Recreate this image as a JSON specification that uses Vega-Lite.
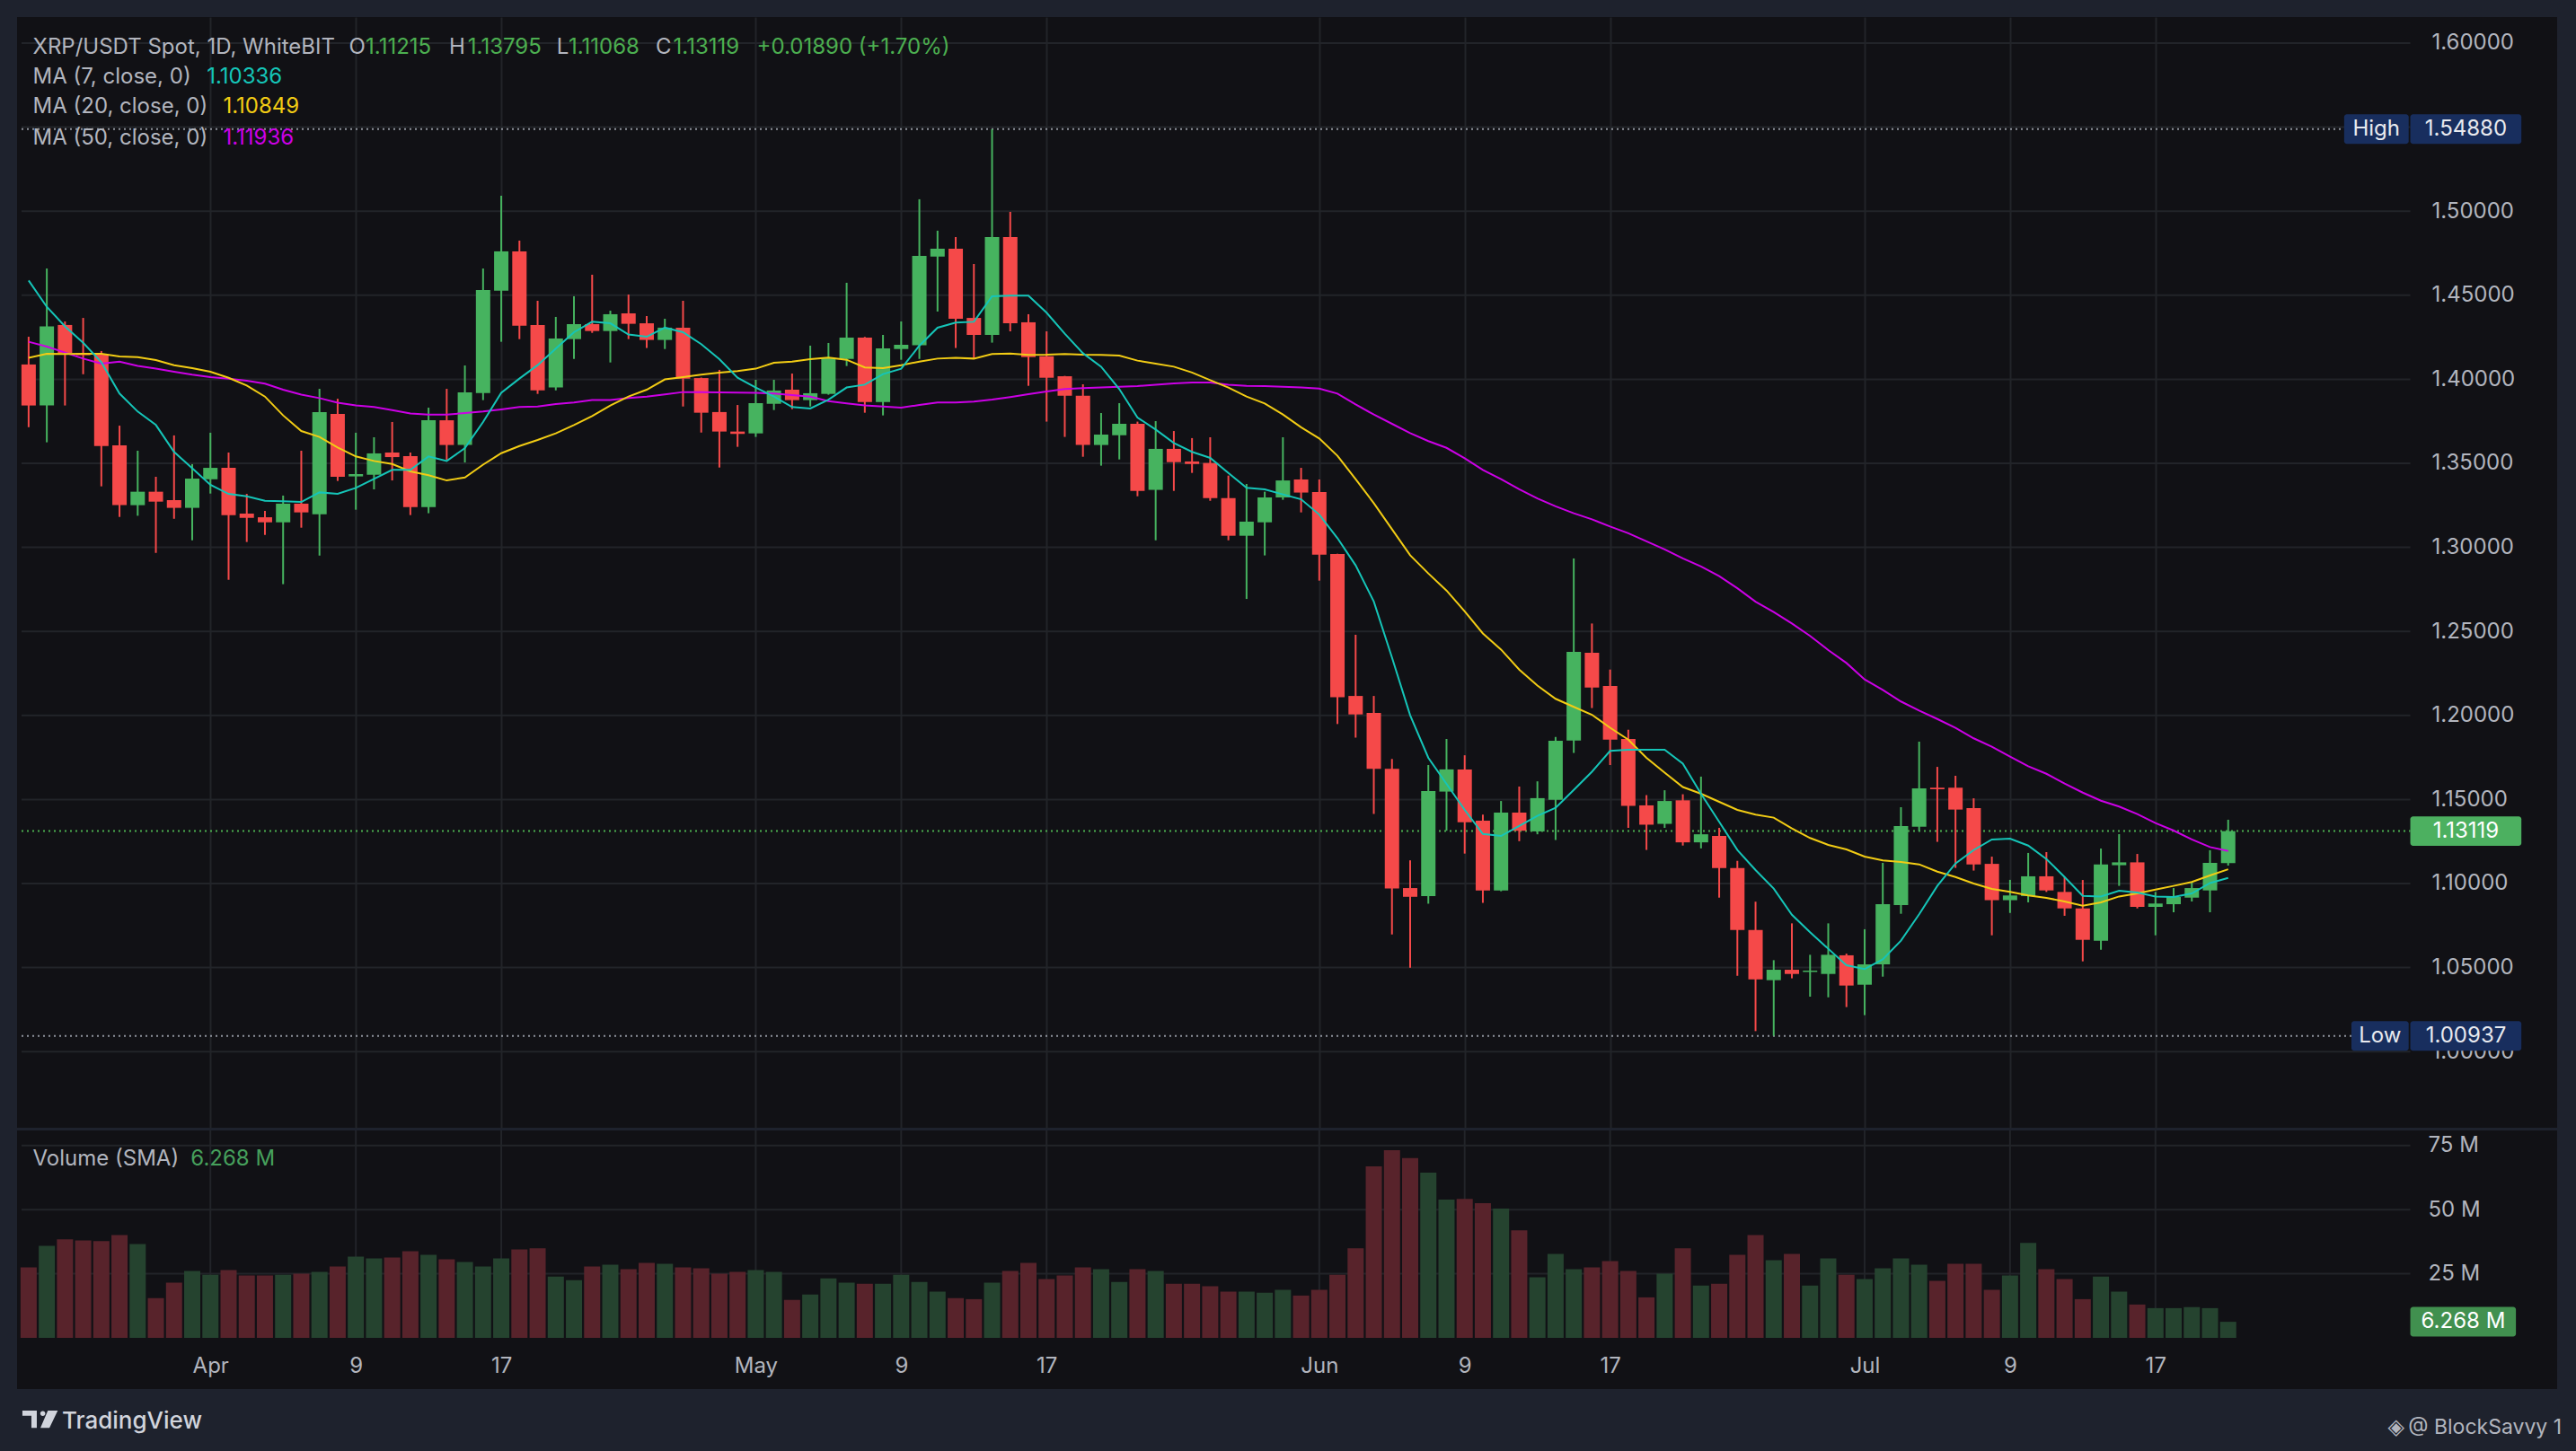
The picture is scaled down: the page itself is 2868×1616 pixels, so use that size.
{
  "$schema": "https://vega.github.io/schema/vega-lite/v6.json",
  "background": "#1e222d",
  "padding": {"left": 19, "top": 19, "right": 21, "bottom": 70},
  "spacing": 2,
  "config": {
    "view": {"stroke": null},
    "text": {"font": "Inter", "fontSize": 24},
    "axis": {"labelFont": "Inter", "labelFontSize": 24, "labelColor": "#b2b5be", "domain": false, "ticks": false, "tickSize": 0}
  },
  "datasets": {
    "one": [{}],
    "ohlc": [
      {"date": "2025-03-22", "o": 1.4088, "h": 1.4253, "l": 1.3715, "c": 1.3844, "v": 27.5, "ma7": 1.4588, "ma20": 1.4128, "ma50": 1.4223},
      {"date": "2025-03-23", "o": 1.3844, "h": 1.4659, "l": 1.3625, "c": 1.4315, "v": 35.9, "ma7": 1.4431, "ma20": 1.4152, "ma50": 1.4194},
      {"date": "2025-03-24", "o": 1.4323, "h": 1.4344, "l": 1.3844, "c": 1.4155, "v": 38.4, "ma7": 1.4315, "ma20": 1.4150, "ma50": 1.4159},
      {"date": "2025-03-25", "o": 1.4155, "h": 1.4365, "l": 1.4030, "c": 1.4143, "v": 38.0, "ma7": 1.4217, "ma20": 1.4152, "ma50": 1.4123},
      {"date": "2025-03-26", "o": 1.4146, "h": 1.4168, "l": 1.3363, "c": 1.3603, "v": 37.7, "ma7": 1.4102, "ma20": 1.4152, "ma50": 1.4093},
      {"date": "2025-03-27", "o": 1.3607, "h": 1.3724, "l": 1.3181, "c": 1.3251, "v": 40.1, "ma7": 1.3915, "ma20": 1.4136, "ma50": 1.4105},
      {"date": "2025-03-28", "o": 1.3251, "h": 1.3575, "l": 1.3188, "c": 1.3331, "v": 36.6, "ma7": 1.3808, "ma20": 1.4132, "ma50": 1.4080},
      {"date": "2025-03-29", "o": 1.3331, "h": 1.3420, "l": 1.2967, "c": 1.3272, "v": 15.5, "ma7": 1.3728, "ma20": 1.4114, "ma50": 1.4063},
      {"date": "2025-03-30", "o": 1.3281, "h": 1.3666, "l": 1.3170, "c": 1.3235, "v": 21.5, "ma7": 1.3568, "ma20": 1.4084, "ma50": 1.4045},
      {"date": "2025-03-31", "o": 1.3235, "h": 1.3495, "l": 1.3042, "c": 1.3409, "v": 26.1, "ma7": 1.3470, "ma20": 1.4066, "ma50": 1.4027},
      {"date": "2025-04-01", "o": 1.3405, "h": 1.3682, "l": 1.3320, "c": 1.3473, "v": 24.6, "ma7": 1.3372, "ma20": 1.4045, "ma50": 1.4013},
      {"date": "2025-04-02", "o": 1.3473, "h": 1.3564, "l": 1.2807, "c": 1.3192, "v": 26.4, "ma7": 1.3318, "ma20": 1.4009, "ma50": 1.4004},
      {"date": "2025-04-03", "o": 1.3201, "h": 1.3318, "l": 1.3032, "c": 1.3176, "v": 24.3, "ma7": 1.3304, "ma20": 1.3963, "ma50": 1.3991},
      {"date": "2025-04-04", "o": 1.3179, "h": 1.3217, "l": 1.3074, "c": 1.3149, "v": 24.3, "ma7": 1.3277, "ma20": 1.3897, "ma50": 1.3974},
      {"date": "2025-04-05", "o": 1.3149, "h": 1.3308, "l": 1.2781, "c": 1.3260, "v": 24.6, "ma7": 1.3274, "ma20": 1.3785, "ma50": 1.3938},
      {"date": "2025-04-06", "o": 1.3260, "h": 1.3575, "l": 1.3117, "c": 1.3208, "v": 25.0, "ma7": 1.3270, "ma20": 1.3692, "ma50": 1.3909},
      {"date": "2025-04-07", "o": 1.3197, "h": 1.3943, "l": 1.2951, "c": 1.3804, "v": 25.7, "ma7": 1.3327, "ma20": 1.3657, "ma50": 1.3888},
      {"date": "2025-04-08", "o": 1.3794, "h": 1.3884, "l": 1.3395, "c": 1.3420, "v": 27.8, "ma7": 1.3318, "ma20": 1.3594, "ma50": 1.3861},
      {"date": "2025-04-09", "o": 1.3422, "h": 1.3682, "l": 1.3224, "c": 1.3436, "v": 31.7, "ma7": 1.3354, "ma20": 1.3541, "ma50": 1.3844},
      {"date": "2025-04-10", "o": 1.3432, "h": 1.3655, "l": 1.3345, "c": 1.3559, "v": 31.0, "ma7": 1.3407, "ma20": 1.3514, "ma50": 1.3835},
      {"date": "2025-04-11", "o": 1.3564, "h": 1.3746, "l": 1.3398, "c": 1.3537, "v": 31.3, "ma7": 1.3461, "ma20": 1.3496, "ma50": 1.3817},
      {"date": "2025-04-12", "o": 1.3543, "h": 1.3564, "l": 1.3192, "c": 1.3240, "v": 33.8, "ma7": 1.3461, "ma20": 1.3452, "ma50": 1.3796},
      {"date": "2025-04-13", "o": 1.3240, "h": 1.3831, "l": 1.3203, "c": 1.3756, "v": 32.4, "ma7": 1.3541, "ma20": 1.3429, "ma50": 1.3790},
      {"date": "2025-04-14", "o": 1.3756, "h": 1.3943, "l": 1.3521, "c": 1.3609, "v": 30.6, "ma7": 1.3514, "ma20": 1.3398, "ma50": 1.3790},
      {"date": "2025-04-15", "o": 1.3609, "h": 1.4082, "l": 1.3505, "c": 1.3922, "v": 29.6, "ma7": 1.3590, "ma20": 1.3416, "ma50": 1.3799},
      {"date": "2025-04-16", "o": 1.3918, "h": 1.4659, "l": 1.3876, "c": 1.4531, "v": 27.8, "ma7": 1.3746, "ma20": 1.3492, "ma50": 1.3808},
      {"date": "2025-04-17", "o": 1.4527, "h": 1.5092, "l": 1.4223, "c": 1.4761, "v": 31.0, "ma7": 1.3920, "ma20": 1.3560, "ma50": 1.3821},
      {"date": "2025-04-18", "o": 1.4761, "h": 1.4825, "l": 1.4239, "c": 1.4319, "v": 34.5, "ma7": 1.4004, "ma20": 1.3603, "ma50": 1.3835},
      {"date": "2025-04-19", "o": 1.4323, "h": 1.4467, "l": 1.3913, "c": 1.3934, "v": 34.9, "ma7": 1.4084, "ma20": 1.3639, "ma50": 1.3838},
      {"date": "2025-04-20", "o": 1.3951, "h": 1.4371, "l": 1.3934, "c": 1.4243, "v": 23.9, "ma7": 1.4182, "ma20": 1.3678, "ma50": 1.3853},
      {"date": "2025-04-21", "o": 1.4239, "h": 1.4494, "l": 1.4121, "c": 1.4328, "v": 22.5, "ma7": 1.4280, "ma20": 1.3728, "ma50": 1.3862},
      {"date": "2025-04-22", "o": 1.4328, "h": 1.4622, "l": 1.4276, "c": 1.4287, "v": 27.8, "ma7": 1.4342, "ma20": 1.3781, "ma50": 1.3876},
      {"date": "2025-04-23", "o": 1.4287, "h": 1.4408, "l": 1.4100, "c": 1.4387, "v": 28.5, "ma7": 1.4333, "ma20": 1.3844, "ma50": 1.3877},
      {"date": "2025-04-24", "o": 1.4392, "h": 1.4504, "l": 1.4239, "c": 1.4330, "v": 26.8, "ma7": 1.4266, "ma20": 1.3897, "ma50": 1.3888},
      {"date": "2025-04-25", "o": 1.4333, "h": 1.4376, "l": 1.4186, "c": 1.4234, "v": 29.2, "ma7": 1.4253, "ma20": 1.3938, "ma50": 1.3897},
      {"date": "2025-04-26", "o": 1.4234, "h": 1.4360, "l": 1.4180, "c": 1.4307, "v": 28.9, "ma7": 1.4307, "ma20": 1.3999, "ma50": 1.3910},
      {"date": "2025-04-27", "o": 1.4307, "h": 1.4467, "l": 1.3838, "c": 1.4004, "v": 27.5, "ma7": 1.4280, "ma20": 1.4013, "ma50": 1.3924},
      {"date": "2025-04-28", "o": 1.4007, "h": 1.4010, "l": 1.3683, "c": 1.3801, "v": 27.1, "ma7": 1.4209, "ma20": 1.4027, "ma50": 1.3924},
      {"date": "2025-04-29", "o": 1.3805, "h": 1.4056, "l": 1.3475, "c": 1.3689, "v": 25.0, "ma7": 1.4120, "ma20": 1.4040, "ma50": 1.3922},
      {"date": "2025-04-30", "o": 1.3689, "h": 1.3847, "l": 1.3598, "c": 1.3675, "v": 25.7, "ma7": 1.4009, "ma20": 1.4049, "ma50": 1.3920},
      {"date": "2025-05-01", "o": 1.3678, "h": 1.3997, "l": 1.3657, "c": 1.3858, "v": 26.4, "ma7": 1.3951, "ma20": 1.4063, "ma50": 1.3919},
      {"date": "2025-05-02", "o": 1.3854, "h": 1.3997, "l": 1.3817, "c": 1.3933, "v": 25.7, "ma7": 1.3897, "ma20": 1.4098, "ma50": 1.3915},
      {"date": "2025-05-03", "o": 1.3938, "h": 1.4034, "l": 1.3822, "c": 1.3876, "v": 14.8, "ma7": 1.3835, "ma20": 1.4105, "ma50": 1.3906},
      {"date": "2025-05-04", "o": 1.3876, "h": 1.4200, "l": 1.3838, "c": 1.3917, "v": 16.9, "ma7": 1.3826, "ma20": 1.4120, "ma50": 1.3897},
      {"date": "2025-05-05", "o": 1.3913, "h": 1.4216, "l": 1.3908, "c": 1.4127, "v": 23.2, "ma7": 1.3879, "ma20": 1.4129, "ma50": 1.3870},
      {"date": "2025-05-06", "o": 1.4121, "h": 1.4574, "l": 1.4079, "c": 1.4248, "v": 21.5, "ma7": 1.3951, "ma20": 1.4116, "ma50": 1.3856},
      {"date": "2025-05-07", "o": 1.4248, "h": 1.4252, "l": 1.3801, "c": 1.3865, "v": 21.1, "ma7": 1.3968, "ma20": 1.4070, "ma50": 1.3844},
      {"date": "2025-05-08", "o": 1.3865, "h": 1.4264, "l": 1.3785, "c": 1.4184, "v": 21.1, "ma7": 1.4031, "ma20": 1.4066, "ma50": 1.3838},
      {"date": "2025-05-09", "o": 1.4180, "h": 1.4344, "l": 1.4116, "c": 1.4205, "v": 24.6, "ma7": 1.4063, "ma20": 1.4084, "ma50": 1.3831},
      {"date": "2025-05-10", "o": 1.4202, "h": 1.5071, "l": 1.4121, "c": 1.4734, "v": 21.8, "ma7": 1.4200, "ma20": 1.4105, "ma50": 1.3847},
      {"date": "2025-05-11", "o": 1.4730, "h": 1.4884, "l": 1.4403, "c": 1.4777, "v": 18.0, "ma7": 1.4307, "ma20": 1.4123, "ma50": 1.3862},
      {"date": "2025-05-12", "o": 1.4777, "h": 1.4846, "l": 1.4186, "c": 1.4360, "v": 15.5, "ma7": 1.4337, "ma20": 1.4127, "ma50": 1.3862},
      {"date": "2025-05-13", "o": 1.4365, "h": 1.4686, "l": 1.4121, "c": 1.4264, "v": 15.1, "ma7": 1.4342, "ma20": 1.4123, "ma50": 1.3867},
      {"date": "2025-05-14", "o": 1.4264, "h": 1.5488, "l": 1.4218, "c": 1.4846, "v": 21.5, "ma7": 1.4494, "ma20": 1.4150, "ma50": 1.3879},
      {"date": "2025-05-15", "o": 1.4846, "h": 1.4996, "l": 1.4285, "c": 1.4333, "v": 26.1, "ma7": 1.4497, "ma20": 1.4153, "ma50": 1.3894},
      {"date": "2025-05-16", "o": 1.4339, "h": 1.4387, "l": 1.3961, "c": 1.4132, "v": 29.2, "ma7": 1.4497, "ma20": 1.4145, "ma50": 1.3911},
      {"date": "2025-05-17", "o": 1.4137, "h": 1.4285, "l": 1.3748, "c": 1.4009, "v": 22.9, "ma7": 1.4396, "ma20": 1.4146, "ma50": 1.3927},
      {"date": "2025-05-18", "o": 1.4018, "h": 1.4020, "l": 1.3657, "c": 1.3902, "v": 24.3, "ma7": 1.4271, "ma20": 1.4150, "ma50": 1.3942},
      {"date": "2025-05-19", "o": 1.3902, "h": 1.3970, "l": 1.3539, "c": 1.3609, "v": 27.5, "ma7": 1.4155, "ma20": 1.4146, "ma50": 1.3947},
      {"date": "2025-05-20", "o": 1.3609, "h": 1.3799, "l": 1.3486, "c": 1.3671, "v": 26.8, "ma7": 1.4075, "ma20": 1.4145, "ma50": 1.3951},
      {"date": "2025-05-21", "o": 1.3667, "h": 1.3858, "l": 1.3523, "c": 1.3735, "v": 21.8, "ma7": 1.3942, "ma20": 1.4141, "ma50": 1.3956},
      {"date": "2025-05-22", "o": 1.3735, "h": 1.3748, "l": 1.3304, "c": 1.3336, "v": 26.8, "ma7": 1.3772, "ma20": 1.4111, "ma50": 1.3959},
      {"date": "2025-05-23", "o": 1.3342, "h": 1.3751, "l": 1.3042, "c": 1.3586, "v": 26.1, "ma7": 1.3701, "ma20": 1.4093, "ma50": 1.3968},
      {"date": "2025-05-24", "o": 1.3586, "h": 1.3692, "l": 1.3336, "c": 1.3507, "v": 21.1, "ma7": 1.3621, "ma20": 1.4075, "ma50": 1.3975},
      {"date": "2025-05-25", "o": 1.3511, "h": 1.3650, "l": 1.3443, "c": 1.3496, "v": 21.1, "ma7": 1.3568, "ma20": 1.4040, "ma50": 1.3981},
      {"date": "2025-05-26", "o": 1.3502, "h": 1.3655, "l": 1.3277, "c": 1.3293, "v": 20.1, "ma7": 1.3532, "ma20": 1.3995, "ma50": 1.3981},
      {"date": "2025-05-27", "o": 1.3293, "h": 1.3427, "l": 1.3042, "c": 1.3069, "v": 18.0, "ma7": 1.3443, "ma20": 1.3951, "ma50": 1.3967},
      {"date": "2025-05-28", "o": 1.3069, "h": 1.3377, "l": 1.2693, "c": 1.3153, "v": 18.0, "ma7": 1.3354, "ma20": 1.3897, "ma50": 1.3961},
      {"date": "2025-05-29", "o": 1.3149, "h": 1.3331, "l": 1.2952, "c": 1.3297, "v": 17.6, "ma7": 1.3345, "ma20": 1.3856, "ma50": 1.3959},
      {"date": "2025-05-30", "o": 1.3297, "h": 1.3655, "l": 1.3283, "c": 1.3398, "v": 18.7, "ma7": 1.3315, "ma20": 1.3790, "ma50": 1.3956},
      {"date": "2025-05-31", "o": 1.3404, "h": 1.3473, "l": 1.3208, "c": 1.3326, "v": 16.5, "ma7": 1.3286, "ma20": 1.3714, "ma50": 1.3951},
      {"date": "2025-06-01", "o": 1.3329, "h": 1.3404, "l": 1.2802, "c": 1.2957, "v": 18.7, "ma7": 1.3195, "ma20": 1.3648, "ma50": 1.3945},
      {"date": "2025-06-02", "o": 1.2960, "h": 1.2962, "l": 1.1949, "c": 1.2108, "v": 24.6, "ma7": 1.3055, "ma20": 1.3545, "ma50": 1.3915},
      {"date": "2025-06-03", "o": 1.2116, "h": 1.2480, "l": 1.1868, "c": 1.2006, "v": 34.9, "ma7": 1.2893, "ma20": 1.3406, "ma50": 1.3850},
      {"date": "2025-06-04", "o": 1.2015, "h": 1.2116, "l": 1.1414, "c": 1.1682, "v": 66.9, "ma7": 1.2678, "ma20": 1.3263, "ma50": 1.3790},
      {"date": "2025-06-05", "o": 1.1682, "h": 1.1741, "l": 1.0697, "c": 1.0971, "v": 73.2, "ma7": 1.2345, "ma20": 1.3108, "ma50": 1.3735},
      {"date": "2025-06-06", "o": 1.0973, "h": 1.1138, "l": 1.0499, "c": 1.0921, "v": 70.1, "ma7": 1.2001, "ma20": 1.2953, "ma50": 1.3680},
      {"date": "2025-06-07", "o": 1.0925, "h": 1.1705, "l": 1.0880, "c": 1.1550, "v": 64.4, "ma7": 1.1748, "ma20": 1.2845, "ma50": 1.3632},
      {"date": "2025-06-08", "o": 1.1547, "h": 1.1860, "l": 1.1314, "c": 1.1679, "v": 53.9, "ma7": 1.1593, "ma20": 1.2743, "ma50": 1.3592},
      {"date": "2025-06-09", "o": 1.1679, "h": 1.1763, "l": 1.1178, "c": 1.1364, "v": 54.2, "ma7": 1.1438, "ma20": 1.2619, "ma50": 1.3530},
      {"date": "2025-06-10", "o": 1.1374, "h": 1.1410, "l": 1.0885, "c": 1.0959, "v": 52.5, "ma7": 1.1295, "ma20": 1.2488, "ma50": 1.3461},
      {"date": "2025-06-11", "o": 1.0959, "h": 1.1491, "l": 1.0954, "c": 1.1422, "v": 50.4, "ma7": 1.1283, "ma20": 1.2392, "ma50": 1.3406},
      {"date": "2025-06-12", "o": 1.1422, "h": 1.1577, "l": 1.1252, "c": 1.1314, "v": 41.9, "ma7": 1.1343, "ma20": 1.2273, "ma50": 1.3346},
      {"date": "2025-06-13", "o": 1.1310, "h": 1.1608, "l": 1.1293, "c": 1.1508, "v": 23.6, "ma7": 1.1403, "ma20": 1.2178, "ma50": 1.3291},
      {"date": "2025-06-14", "o": 1.1498, "h": 1.1872, "l": 1.1259, "c": 1.1849, "v": 32.7, "ma7": 1.1450, "ma20": 1.2099, "ma50": 1.3244},
      {"date": "2025-06-15", "o": 1.1851, "h": 1.2934, "l": 1.1777, "c": 1.2378, "v": 26.8, "ma7": 1.1557, "ma20": 1.2051, "ma50": 1.3203},
      {"date": "2025-06-16", "o": 1.2373, "h": 1.2547, "l": 1.2044, "c": 1.2166, "v": 27.5, "ma7": 1.1665, "ma20": 1.2004, "ma50": 1.3167},
      {"date": "2025-06-17", "o": 1.2175, "h": 1.2273, "l": 1.1705, "c": 1.1856, "v": 29.9, "ma7": 1.1789, "ma20": 1.1927, "ma50": 1.3124},
      {"date": "2025-06-18", "o": 1.1860, "h": 1.1915, "l": 1.1331, "c": 1.1462, "v": 26.1, "ma7": 1.1796, "ma20": 1.1856, "ma50": 1.3084},
      {"date": "2025-06-19", "o": 1.1465, "h": 1.1526, "l": 1.1200, "c": 1.1350, "v": 15.8, "ma7": 1.1796, "ma20": 1.1748, "ma50": 1.3036},
      {"date": "2025-06-20", "o": 1.1355, "h": 1.1555, "l": 1.1331, "c": 1.1491, "v": 25.0, "ma7": 1.1796, "ma20": 1.1660, "ma50": 1.2988},
      {"date": "2025-06-21", "o": 1.1495, "h": 1.1531, "l": 1.1226, "c": 1.1245, "v": 34.9, "ma7": 1.1713, "ma20": 1.1574, "ma50": 1.2934},
      {"date": "2025-06-22", "o": 1.1245, "h": 1.1636, "l": 1.1209, "c": 1.1293, "v": 20.4, "ma7": 1.1534, "ma20": 1.1534, "ma50": 1.2886},
      {"date": "2025-06-23", "o": 1.1283, "h": 1.1331, "l": 1.0916, "c": 1.1092, "v": 21.1, "ma7": 1.1367, "ma20": 1.1486, "ma50": 1.2829},
      {"date": "2025-06-24", "o": 1.1092, "h": 1.1135, "l": 1.0451, "c": 1.0723, "v": 32.4, "ma7": 1.1200, "ma20": 1.1438, "ma50": 1.2757},
      {"date": "2025-06-25", "o": 1.0723, "h": 1.0892, "l": 1.0122, "c": 1.0430, "v": 40.1, "ma7": 1.1080, "ma20": 1.1410, "ma50": 1.2677},
      {"date": "2025-06-26", "o": 1.0425, "h": 1.0544, "l": 1.00937, "c": 1.0487, "v": 30.3, "ma7": 1.0970, "ma20": 1.1392, "ma50": 1.2615},
      {"date": "2025-06-27", "o": 1.0487, "h": 1.0763, "l": 1.0436, "c": 1.0462, "v": 32.7, "ma7": 1.0814, "ma20": 1.1328, "ma50": 1.2547},
      {"date": "2025-06-28", "o": 1.0474, "h": 1.0576, "l": 1.0327, "c": 1.0482, "v": 20.4, "ma7": 1.0710, "ma20": 1.1271, "ma50": 1.2473},
      {"date": "2025-06-29", "o": 1.0462, "h": 1.0763, "l": 1.0323, "c": 1.0576, "v": 31.0, "ma7": 1.0612, "ma20": 1.1230, "ma50": 1.2389},
      {"date": "2025-06-30", "o": 1.0573, "h": 1.0583, "l": 1.0265, "c": 1.0393, "v": 24.6, "ma7": 1.0514, "ma20": 1.1203, "ma50": 1.2312},
      {"date": "2025-07-01", "o": 1.0398, "h": 1.0728, "l": 1.0217, "c": 1.0519, "v": 22.9, "ma7": 1.0491, "ma20": 1.1160, "ma50": 1.2214},
      {"date": "2025-07-02", "o": 1.0519, "h": 1.1123, "l": 1.0446, "c": 1.0877, "v": 27.1, "ma7": 1.0549, "ma20": 1.1137, "ma50": 1.2152},
      {"date": "2025-07-03", "o": 1.0872, "h": 1.1454, "l": 1.0820, "c": 1.1342, "v": 31.0, "ma7": 1.0660, "ma20": 1.1128, "ma50": 1.2083},
      {"date": "2025-07-04", "o": 1.1338, "h": 1.1844, "l": 1.1310, "c": 1.1566, "v": 28.5, "ma7": 1.0817, "ma20": 1.1114, "ma50": 1.2029},
      {"date": "2025-07-05", "o": 1.1570, "h": 1.1694, "l": 1.1248, "c": 1.1561, "v": 22.2, "ma7": 1.0986, "ma20": 1.1071, "ma50": 1.1979},
      {"date": "2025-07-06", "o": 1.1570, "h": 1.1641, "l": 1.1093, "c": 1.1440, "v": 28.9, "ma7": 1.1119, "ma20": 1.1039, "ma50": 1.1926},
      {"date": "2025-07-07", "o": 1.1449, "h": 1.1507, "l": 1.1077, "c": 1.1114, "v": 28.9, "ma7": 1.1199, "ma20": 1.1000, "ma50": 1.1864},
      {"date": "2025-07-08", "o": 1.1117, "h": 1.1160, "l": 1.0692, "c": 1.0901, "v": 18.7, "ma7": 1.1262, "ma20": 1.0968, "ma50": 1.1814},
      {"date": "2025-07-09", "o": 1.0901, "h": 1.1022, "l": 1.0825, "c": 1.0929, "v": 24.3, "ma7": 1.1267, "ma20": 1.0950, "ma50": 1.1755},
      {"date": "2025-07-10", "o": 1.0925, "h": 1.1182, "l": 1.0888, "c": 1.1043, "v": 37.0, "ma7": 1.1226, "ma20": 1.0929, "ma50": 1.1698},
      {"date": "2025-07-11", "o": 1.1043, "h": 1.1187, "l": 1.0950, "c": 1.0959, "v": 26.8, "ma7": 1.1146, "ma20": 1.0915, "ma50": 1.1653},
      {"date": "2025-07-12", "o": 1.0950, "h": 1.1039, "l": 1.0808, "c": 1.0852, "v": 22.9, "ma7": 1.1039, "ma20": 1.0893, "ma50": 1.1595},
      {"date": "2025-07-13", "o": 1.0852, "h": 1.1021, "l": 1.0537, "c": 1.0665, "v": 15.1, "ma7": 1.0927, "ma20": 1.0868, "ma50": 1.1541},
      {"date": "2025-07-14", "o": 1.0660, "h": 1.1208, "l": 1.0606, "c": 1.1114, "v": 23.9, "ma7": 1.0923, "ma20": 1.0888, "ma50": 1.1493},
      {"date": "2025-07-15", "o": 1.1109, "h": 1.1294, "l": 1.0986, "c": 1.1126, "v": 18.0, "ma7": 1.0957, "ma20": 1.0923, "ma50": 1.1458},
      {"date": "2025-07-16", "o": 1.1126, "h": 1.1176, "l": 1.0852, "c": 1.0861, "v": 13.0, "ma7": 1.0947, "ma20": 1.0941, "ma50": 1.1413},
      {"date": "2025-07-17", "o": 1.0861, "h": 1.0950, "l": 1.0692, "c": 1.0881, "v": 11.6, "ma7": 1.0923, "ma20": 1.0964, "ma50": 1.1360},
      {"date": "2025-07-18", "o": 1.0877, "h": 1.0973, "l": 1.0829, "c": 1.0920, "v": 11.6, "ma7": 1.0920, "ma20": 1.0986, "ma50": 1.1315},
      {"date": "2025-07-19", "o": 1.0916, "h": 1.1009, "l": 1.0893, "c": 1.0973, "v": 12.0, "ma7": 1.0941, "ma20": 1.1009, "ma50": 1.1262},
      {"date": "2025-07-20", "o": 1.0959, "h": 1.1198, "l": 1.0829, "c": 1.11229, "v": 11.6, "ma7": 1.1003, "ma20": 1.1048, "ma50": 1.1217},
      {"date": "2025-07-21", "o": 1.11215, "h": 1.13795, "l": 1.11068, "c": 1.13119, "v": 6.268, "ma7": 1.10336, "ma20": 1.10849, "ma50": 1.11936}
    ],
    "pgrid": [{"p": 1.0}, {"p": 1.05}, {"p": 1.1}, {"p": 1.15}, {"p": 1.2}, {"p": 1.25}, {"p": 1.3}, {"p": 1.35}, {"p": 1.4}, {"p": 1.45}, {"p": 1.5}, {"p": 1.55}, {"p": 1.6}],
    "vgrid": [{"g": 25}, {"g": 50}, {"g": 75}],
    "ticks": [{"t": "2025-04-01"}, {"t": "2025-04-09"}, {"t": "2025-04-17"}, {"t": "2025-05-01"}, {"t": "2025-05-09"}, {"t": "2025-05-17"}, {"t": "2025-06-01"}, {"t": "2025-06-09"}, {"t": "2025-06-17"}, {"t": "2025-07-01"}, {"t": "2025-07-09"}, {"t": "2025-07-17"}]
  },
  "vconcat": [
    {
      "width": 2828,
      "height": 1237,
      "view": {"fill": "#111115", "stroke": null},
      "layer": [
        {
          "data": {"name": "pgrid"},
          "mark": {"type": "rule", "color": "#222429", "strokeWidth": 2},
          "encoding": {
            "y": {"field": "p", "type": "quantitative", "scale": {"domain": [0.9547, 1.61549], "nice": false, "zero": false},
                  "axis": {"orient": "right", "offset": -140, "labelAlign": "left", "labelPadding": 0, "values": [1.0, 1.05, 1.1, 1.15, 1.2, 1.25, 1.3, 1.35, 1.4, 1.45, 1.5, 1.6], "format": ".5f", "grid": false, "title": null, "labelOverlap": false}},
            "x": {"datum": {"year": 2025, "month": 3, "date": 21, "hours": 14, "minutes": 40, "utc": true}, "type": "temporal"},
            "x2": {"datum": {"year": 2025, "month": 7, "date": 31, "hours": 0, "minutes": 29, "utc": true}}
          }
        },
        {
          "data": {"name": "one"},
          "mark": {"type": "rule", "color": "#8f939c", "strokeWidth": 2, "strokeDash": [2, 4]},
          "encoding": {
            "y": {"datum": 1.5488},
            "x": {"datum": {"year": 2025, "month": 3, "date": 21, "hours": 14, "minutes": 40, "utc": true}, "type": "temporal"},
            "x2": {"datum": {"year": 2025, "month": 7, "date": 27, "hours": 9, "minutes": 7, "utc": true}}
          }
        },
        {
          "data": {"name": "one"},
          "mark": {"type": "rule", "color": "#8f939c", "strokeWidth": 2, "strokeDash": [2, 4]},
          "encoding": {
            "y": {"datum": 1.00937},
            "x": {"datum": {"year": 2025, "month": 3, "date": 21, "hours": 14, "minutes": 40, "utc": true}, "type": "temporal"},
            "x2": {"datum": {"year": 2025, "month": 7, "date": 27, "hours": 18, "minutes": 43, "utc": true}}
          }
        },
        {
          "data": {"name": "one"},
          "mark": {"type": "rule", "color": "#4caf50", "strokeWidth": 2, "strokeDash": [2, 4]},
          "encoding": {
            "y": {"datum": 1.13119},
            "x": {"datum": {"year": 2025, "month": 3, "date": 21, "hours": 14, "minutes": 40, "utc": true}, "type": "temporal"},
            "x2": {"datum": {"year": 2025, "month": 7, "date": 31, "hours": 0, "minutes": 29, "utc": true}}
          }
        },
        {
          "data": {"name": "ohlc"},
          "mark": {"type": "rule", "strokeWidth": 2, "clip": true},
          "encoding": {
            "x": {"field": "date", "type": "temporal",
                  "scale": {"type": "utc", "nice": false, "domain": [{"year": 2025, "month": 3, "date": 21, "hours": 14, "minutes": 40, "utc": true}, {"year": 2025, "month": 8, "date": 7, "hours": 20, "minutes": 24, "utc": true}]},
                  "axis": {"grid": true, "gridColor": "#222429", "gridWidth": 2, "labels": false, "title": null,
                           "values": [{"year": 2025, "month": 4, "date": 1, "utc": true}, {"year": 2025, "month": 4, "date": 9, "utc": true}, {"year": 2025, "month": 4, "date": 17, "utc": true}, {"year": 2025, "month": 5, "date": 1, "utc": true}, {"year": 2025, "month": 5, "date": 9, "utc": true}, {"year": 2025, "month": 5, "date": 17, "utc": true}, {"year": 2025, "month": 6, "date": 1, "utc": true}, {"year": 2025, "month": 6, "date": 9, "utc": true}, {"year": 2025, "month": 6, "date": 17, "utc": true}, {"year": 2025, "month": 7, "date": 1, "utc": true}, {"year": 2025, "month": 7, "date": 9, "utc": true}, {"year": 2025, "month": 7, "date": 17, "utc": true}]}},
            "y": {"field": "l", "type": "quantitative"},
            "y2": {"field": "h"},
            "color": {"condition": {"test": "datum.c >= datum.o", "value": "#46b35f"}, "value": "#f54949"}
          }
        },
        {
          "data": {"name": "ohlc"},
          "mark": {"type": "bar", "width": 16, "clip": true},
          "encoding": {
            "x": {"field": "date", "type": "temporal"},
            "y": {"field": "o", "type": "quantitative"},
            "y2": {"field": "c"},
            "color": {"condition": {"test": "datum.c >= datum.o", "value": "#46b35f"}, "value": "#f54949"}
          }
        },
        {
          "data": {"name": "ohlc"},
          "mark": {"type": "line", "color": "#cc00e6", "strokeWidth": 2, "clip": true},
          "encoding": {"x": {"field": "date", "type": "temporal"}, "y": {"field": "ma50", "type": "quantitative"}}
        },
        {
          "data": {"name": "ohlc"},
          "mark": {"type": "line", "color": "#f2cc14", "strokeWidth": 2, "clip": true},
          "encoding": {"x": {"field": "date", "type": "temporal"}, "y": {"field": "ma20", "type": "quantitative"}}
        },
        {
          "data": {"name": "ohlc"},
          "mark": {"type": "line", "color": "#15c5b8", "strokeWidth": 2, "clip": true},
          "encoding": {"x": {"field": "date", "type": "temporal"}, "y": {"field": "ma7", "type": "quantitative"}}
        },
        {
          "data": {"name": "one"},
          "mark": {"type": "rect", "color": "#182e5e", "cornerRadius": 3},
          "encoding": {
            "x": {"datum": {"year": 2025, "month": 7, "date": 27, "hours": 9, "minutes": 7, "utc": true}, "type": "temporal"},
            "x2": {"datum": {"year": 2025, "month": 7, "date": 30, "hours": 22, "minutes": 19, "utc": true}},
            "y": {"datum": 1.5400}, "y2": {"datum": 1.5576}
          }
        },
        {
          "data": {"name": "one"},
          "mark": {"type": "rect", "color": "#182e5e", "cornerRadius": 3},
          "encoding": {
            "x": {"datum": {"year": 2025, "month": 7, "date": 31, "hours": 0, "minutes": 29, "utc": true}, "type": "temporal"},
            "x2": {"datum": {"year": 2025, "month": 8, "date": 6, "hours": 3, "minutes": 7, "utc": true}},
            "y": {"datum": 1.5400}, "y2": {"datum": 1.5576}
          }
        },
        {
          "data": {"name": "one"},
          "mark": {"type": "rect", "color": "#182e5e", "cornerRadius": 3},
          "encoding": {
            "x": {"datum": {"year": 2025, "month": 7, "date": 27, "hours": 18, "minutes": 43, "utc": true}, "type": "temporal"},
            "x2": {"datum": {"year": 2025, "month": 7, "date": 30, "hours": 22, "minutes": 19, "utc": true}},
            "y": {"datum": 1.00057}, "y2": {"datum": 1.01817}
          }
        },
        {
          "data": {"name": "one"},
          "mark": {"type": "rect", "color": "#182e5e", "cornerRadius": 3},
          "encoding": {
            "x": {"datum": {"year": 2025, "month": 7, "date": 31, "hours": 0, "minutes": 29, "utc": true}, "type": "temporal"},
            "x2": {"datum": {"year": 2025, "month": 8, "date": 6, "hours": 3, "minutes": 7, "utc": true}},
            "y": {"datum": 1.00057}, "y2": {"datum": 1.01817}
          }
        },
        {
          "data": {"name": "one"},
          "mark": {"type": "rect", "color": "#4cb060", "cornerRadius": 3},
          "encoding": {
            "x": {"datum": {"year": 2025, "month": 7, "date": 31, "hours": 0, "minutes": 29, "utc": true}, "type": "temporal"},
            "x2": {"datum": {"year": 2025, "month": 8, "date": 6, "hours": 3, "minutes": 7, "utc": true}},
            "y": {"datum": 1.12239}, "y2": {"datum": 1.13999}
          }
        },
        {
          "data": {"name": "one"},
          "mark": {"type": "text", "color": "#e8eaef", "align": "center", "baseline": "middle"},
          "encoding": {"x": {"datum": {"year": 2025, "month": 7, "date": 29, "hours": 3, "minutes": 36, "utc": true}, "type": "temporal"}, "y": {"datum": 1.5488}, "text": {"value": "High"}}
        },
        {
          "data": {"name": "one"},
          "mark": {"type": "text", "color": "#e8eaef", "align": "center", "baseline": "middle"},
          "encoding": {"x": {"datum": {"year": 2025, "month": 8, "date": 3, "hours": 1, "minutes": 55, "utc": true}, "type": "temporal"}, "y": {"datum": 1.5488}, "text": {"value": "1.54880"}}
        },
        {
          "data": {"name": "one"},
          "mark": {"type": "text", "color": "#e8eaef", "align": "center", "baseline": "middle"},
          "encoding": {"x": {"datum": {"year": 2025, "month": 7, "date": 29, "hours": 8, "minutes": 24, "utc": true}, "type": "temporal"}, "y": {"datum": 1.00937}, "text": {"value": "Low"}}
        },
        {
          "data": {"name": "one"},
          "mark": {"type": "text", "color": "#e8eaef", "align": "center", "baseline": "middle"},
          "encoding": {"x": {"datum": {"year": 2025, "month": 8, "date": 3, "hours": 1, "minutes": 55, "utc": true}, "type": "temporal"}, "y": {"datum": 1.00937}, "text": {"value": "1.00937"}}
        },
        {
          "data": {"name": "one"},
          "mark": {"type": "text", "color": "#ffffff", "align": "center", "baseline": "middle"},
          "encoding": {"x": {"datum": {"year": 2025, "month": 8, "date": 3, "hours": 1, "minutes": 55, "utc": true}, "type": "temporal"}, "y": {"datum": 1.13119}, "text": {"value": "1.13119"}}
        },
        {
          "data": {"name": "one"},
          "mark": {"type": "text", "color": "#b2b5be", "align": "left", "baseline": "middle"},
          "encoding": {"x": {"datum": {"year": 2025, "month": 3, "date": 22, "hours": 5, "minutes": 30, "utc": true}, "type": "temporal"}, "y": {"datum": 1.5975}, "text": {"value": "XRP/USDT Spot, 1D, WhiteBIT"}}
        },
        {
          "data": {"name": "one"},
          "mark": {"type": "text", "color": "#b2b5be", "align": "left", "baseline": "middle"},
          "encoding": {"x": {"datum": {"year": 2025, "month": 4, "date": 8, "hours": 15, "minutes": 0, "utc": true}, "type": "temporal"}, "y": {"datum": 1.5975}, "text": {"value": "O"}}
        },
        {
          "data": {"name": "one"},
          "mark": {"type": "text", "color": "#4caf50", "align": "left", "baseline": "middle"},
          "encoding": {"x": {"datum": {"year": 2025, "month": 4, "date": 9, "hours": 12, "minutes": 58, "utc": true}, "type": "temporal"}, "y": {"datum": 1.5975}, "text": {"value": "1.11215"}}
        },
        {
          "data": {"name": "one"},
          "mark": {"type": "text", "color": "#b2b5be", "align": "left", "baseline": "middle"},
          "encoding": {"x": {"datum": {"year": 2025, "month": 4, "date": 14, "hours": 3, "minutes": 0, "utc": true}, "type": "temporal"}, "y": {"datum": 1.5975}, "text": {"value": "H"}}
        },
        {
          "data": {"name": "one"},
          "mark": {"type": "text", "color": "#4caf50", "align": "left", "baseline": "middle"},
          "encoding": {"x": {"datum": {"year": 2025, "month": 4, "date": 15, "hours": 3, "minutes": 50, "utc": true}, "type": "temporal"}, "y": {"datum": 1.5975}, "text": {"value": "1.13795"}}
        },
        {
          "data": {"name": "one"},
          "mark": {"type": "text", "color": "#b2b5be", "align": "left", "baseline": "middle"},
          "encoding": {"x": {"datum": {"year": 2025, "month": 4, "date": 20, "hours": 1, "minutes": 0, "utc": true}, "type": "temporal"}, "y": {"datum": 1.5975}, "text": {"value": "L"}}
        },
        {
          "data": {"name": "one"},
          "mark": {"type": "text", "color": "#4caf50", "align": "left", "baseline": "middle"},
          "encoding": {"x": {"datum": {"year": 2025, "month": 4, "date": 20, "hours": 16, "minutes": 48, "utc": true}, "type": "temporal"}, "y": {"datum": 1.5975}, "text": {"value": "1.11068"}}
        },
        {
          "data": {"name": "one"},
          "mark": {"type": "text", "color": "#b2b5be", "align": "left", "baseline": "middle"},
          "encoding": {"x": {"datum": {"year": 2025, "month": 4, "date": 25, "hours": 12, "minutes": 0, "utc": true}, "type": "temporal"}, "y": {"datum": 1.5975}, "text": {"value": "C"}}
        },
        {
          "data": {"name": "one"},
          "mark": {"type": "text", "color": "#4caf50", "align": "left", "baseline": "middle"},
          "encoding": {"x": {"datum": {"year": 2025, "month": 4, "date": 26, "hours": 11, "minutes": 2, "utc": true}, "type": "temporal"}, "y": {"datum": 1.5975}, "text": {"value": "1.13119"}}
        },
        {
          "data": {"name": "one"},
          "mark": {"type": "text", "color": "#4caf50", "align": "left", "baseline": "middle"},
          "encoding": {"x": {"datum": {"year": 2025, "month": 5, "date": 1, "hours": 1, "minutes": 26, "utc": true}, "type": "temporal"}, "y": {"datum": 1.5975}, "text": {"value": "+0.01890 (+1.70%)"}}
        },
        {
          "data": {"name": "one"},
          "mark": {"type": "text", "color": "#b2b5be", "align": "left", "baseline": "middle"},
          "encoding": {"x": {"datum": {"year": 2025, "month": 3, "date": 22, "hours": 5, "minutes": 30, "utc": true}, "type": "temporal"}, "y": {"datum": 1.5797}, "text": {"value": "MA (7, close, 0)"}}
        },
        {
          "data": {"name": "one"},
          "mark": {"type": "text", "color": "#15c5b8", "align": "left", "baseline": "middle"},
          "encoding": {"x": {"datum": {"year": 2025, "month": 3, "date": 31, "hours": 19, "minutes": 12, "utc": true}, "type": "temporal"}, "y": {"datum": 1.5797}, "text": {"value": "1.10336"}}
        },
        {
          "data": {"name": "one"},
          "mark": {"type": "text", "color": "#b2b5be", "align": "left", "baseline": "middle"},
          "encoding": {"x": {"datum": {"year": 2025, "month": 3, "date": 22, "hours": 5, "minutes": 30, "utc": true}, "type": "temporal"}, "y": {"datum": 1.5620}, "text": {"value": "MA (20, close, 0)"}}
        },
        {
          "data": {"name": "one"},
          "mark": {"type": "text", "color": "#f2cc14", "align": "left", "baseline": "middle"},
          "encoding": {"x": {"datum": {"year": 2025, "month": 4, "date": 1, "hours": 16, "minutes": 48, "utc": true}, "type": "temporal"}, "y": {"datum": 1.5620}, "text": {"value": "1.10849"}}
        },
        {
          "data": {"name": "one"},
          "mark": {"type": "text", "color": "#b2b5be", "align": "left", "baseline": "middle"},
          "encoding": {"x": {"datum": {"year": 2025, "month": 3, "date": 22, "hours": 5, "minutes": 30, "utc": true}, "type": "temporal"}, "y": {"datum": 1.5435}, "text": {"value": "MA (50, close, 0)"}}
        },
        {
          "data": {"name": "one"},
          "mark": {"type": "text", "color": "#cc00e6", "align": "left", "baseline": "middle"},
          "encoding": {"x": {"datum": {"year": 2025, "month": 4, "date": 1, "hours": 16, "minutes": 48, "utc": true}, "type": "temporal"}, "y": {"datum": 1.5435}, "text": {"value": "1.11936"}}
        }
      ]
    },
    {
      "width": 2828,
      "height": 288,
      "view": {"fill": "#111115", "stroke": null},
      "layer": [
        {
          "data": {"name": "ticks"},
          "mark": {"type": "rule", "color": "#222429", "strokeWidth": 2},
          "encoding": {
            "x": {"field": "t", "type": "temporal",
                  "scale": {"type": "utc", "nice": false, "domain": [{"year": 2025, "month": 3, "date": 21, "hours": 14, "minutes": 40, "utc": true}, {"year": 2025, "month": 8, "date": 7, "hours": 20, "minutes": 24, "utc": true}]},
                  "axis": {"orient": "bottom", "offset": -38, "labelPadding": 0, "grid": false, "title": null,
                           "labelExpr": "utcdate(datum.value) == 1 ? utcFormat(datum.value, '%b') : utcFormat(datum.value, '%-d')",
                           "values": [{"year": 2025, "month": 4, "date": 1, "utc": true}, {"year": 2025, "month": 4, "date": 9, "utc": true}, {"year": 2025, "month": 4, "date": 17, "utc": true}, {"year": 2025, "month": 5, "date": 1, "utc": true}, {"year": 2025, "month": 5, "date": 9, "utc": true}, {"year": 2025, "month": 5, "date": 17, "utc": true}, {"year": 2025, "month": 6, "date": 1, "utc": true}, {"year": 2025, "month": 6, "date": 9, "utc": true}, {"year": 2025, "month": 6, "date": 17, "utc": true}, {"year": 2025, "month": 7, "date": 1, "utc": true}, {"year": 2025, "month": 7, "date": 9, "utc": true}, {"year": 2025, "month": 7, "date": 17, "utc": true}]}},
            "y": {"datum": 0, "type": "quantitative", "scale": {"domain": [-19.96, 80.88], "nice": false, "zero": false},
                  "axis": {"orient": "right", "offset": -144, "labelAlign": "left", "labelPadding": 0, "values": [25, 50, 75], "labelExpr": "datum.value + ' M'", "grid": false, "title": null}},
            "y2": {"datum": 80.88}
          }
        },
        {
          "data": {"name": "vgrid"},
          "mark": {"type": "rule", "color": "#222429", "strokeWidth": 2},
          "encoding": {
            "y": {"field": "g", "type": "quantitative"},
            "x": {"datum": {"year": 2025, "month": 3, "date": 21, "hours": 14, "minutes": 40, "utc": true}, "type": "temporal"},
            "x2": {"datum": {"year": 2025, "month": 7, "date": 31, "hours": 0, "minutes": 29, "utc": true}}
          }
        },
        {
          "data": {"name": "ohlc"},
          "mark": {"type": "bar", "width": 18, "clip": true},
          "encoding": {
            "x": {"field": "date", "type": "temporal"},
            "y": {"field": "v", "type": "quantitative"},
            "y2": {"datum": 0},
            "color": {"condition": {"test": "datum.c >= datum.o", "value": "#25432f"}, "value": "#58232b"}
          }
        },
        {
          "data": {"name": "one"},
          "mark": {"type": "rect", "color": "#41904f", "cornerRadius": 3},
          "encoding": {
            "x": {"datum": {"year": 2025, "month": 7, "date": 31, "hours": 0, "minutes": 29, "utc": true}, "type": "temporal"},
            "x2": {"datum": {"year": 2025, "month": 8, "date": 5, "hours": 19, "minutes": 55, "utc": true}},
            "y": {"datum": 0.49}, "y2": {"datum": 12.05}
          }
        },
        {
          "data": {"name": "one"},
          "mark": {"type": "text", "color": "#ffffff", "align": "center", "baseline": "middle"},
          "encoding": {"x": {"datum": {"year": 2025, "month": 8, "date": 2, "hours": 22, "minutes": 19, "utc": true}, "type": "temporal"}, "y": {"datum": 6.268}, "text": {"value": "6.268 M"}}
        },
        {
          "data": {"name": "one"},
          "mark": {"type": "text", "color": "#b2b5be", "align": "left", "baseline": "middle"},
          "encoding": {"x": {"datum": {"year": 2025, "month": 3, "date": 22, "hours": 5, "minutes": 30, "utc": true}, "type": "temporal"}, "y": {"datum": 69.7}, "text": {"value": "Volume (SMA)"}}
        },
        {
          "data": {"name": "one"},
          "mark": {"type": "text", "color": "#46a05c", "align": "left", "baseline": "middle"},
          "encoding": {"x": {"datum": {"year": 2025, "month": 3, "date": 30, "hours": 22, "minutes": 0, "utc": true}, "type": "temporal"}, "y": {"datum": 69.7}, "text": {"value": "6.268 M"}}
        },
        {
          "data": {"name": "one"},
          "mark": {"type": "point", "filled": true, "opacity": 1, "color": "#d1d4dc", "size": 1550,
                   "shape": "M-1,-0.49 L-0.186,-0.49 L-0.186,0.49 L-0.49,0.49 L-0.49,-0.2 L-1,-0.2 Z M0.009,-0.32 A0.144,0.144 0 1,0 0.297,-0.32 A0.144,0.144 0 1,0 0.009,-0.32 Z M0.44,-0.49 L1,-0.49 L0.53,0.49 L0.02,0.49 Z"},
          "encoding": {"x": {"datum": {"year": 2025, "month": 3, "date": 22, "hours": 15, "minutes": 7, "utc": true}, "type": "temporal"}, "y": {"datum": -31.72}}
        },
        {
          "data": {"name": "one"},
          "mark": {"type": "text", "color": "#d1d4dc", "align": "left", "baseline": "middle", "fontSize": 26, "fontWeight": 500},
          "encoding": {"x": {"datum": {"year": 2025, "month": 3, "date": 23, "hours": 20, "minutes": 0, "utc": true}, "type": "temporal"}, "y": {"datum": -32.56}, "text": {"value": "TradingView"}}
        },
        {
          "data": {"name": "one"},
          "mark": {"type": "text", "color": "#b2b5be", "align": "center", "baseline": "middle", "font": "DejaVu Sans", "fontSize": 24},
          "encoding": {"x": {"datum": {"year": 2025, "month": 7, "date": 30, "hours": 5, "minutes": 46, "utc": true}, "type": "temporal"}, "y": {"datum": -35.0}, "text": {"value": "◈"}}
        },
        {
          "data": {"name": "one"},
          "mark": {"type": "text", "color": "#b2b5be", "align": "right", "baseline": "middle", "fontSize": 23},
          "encoding": {"x": {"datum": {"year": 2025, "month": 8, "date": 8, "hours": 8, "minutes": 24, "utc": true}, "type": "temporal"}, "y": {"datum": -35.0}, "text": {"value": "@ BlockSavvy 1"}}
        }
      ]
    }
  ]
}
